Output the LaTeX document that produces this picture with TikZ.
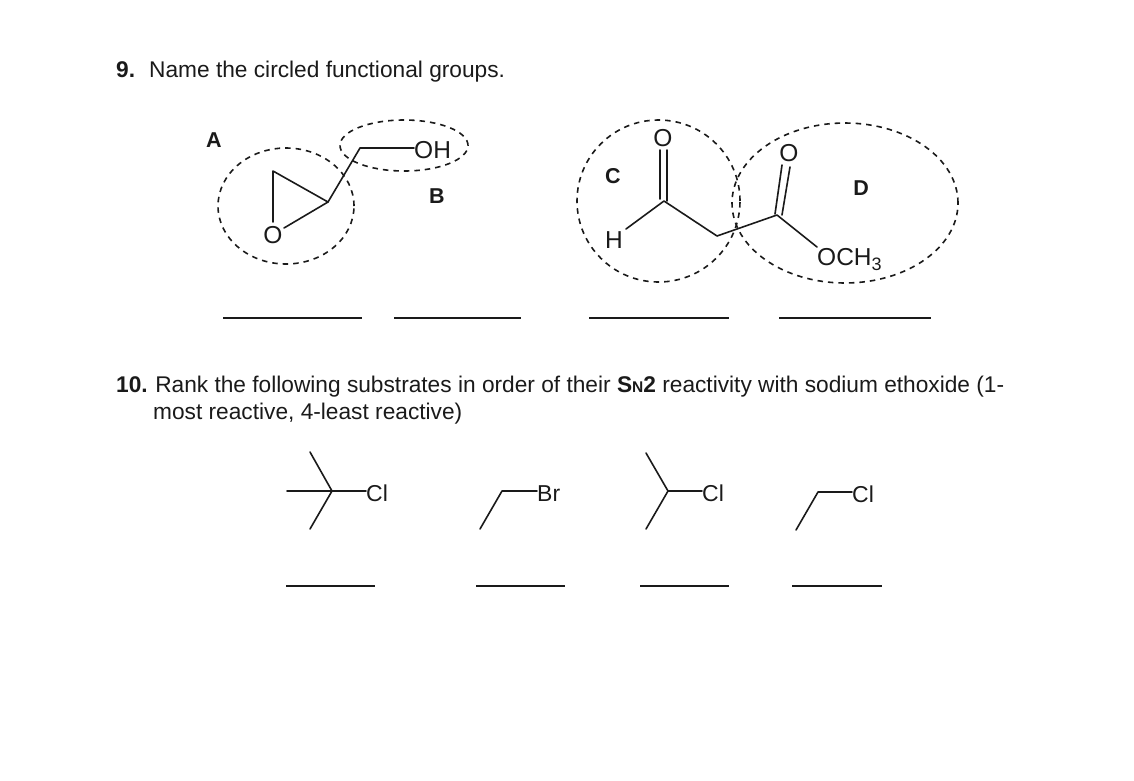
\documentclass[tikz,border=0pt]{standalone}
\usepackage{fontspec}
\setmainfont{Liberation Sans}
\definecolor{ink}{HTML}{1A1A1A}
\usetikzlibrary{shapes.geometric}
\tikzset{
  bond/.style={draw=ink,line width=1.6pt,line cap=round,line join=round},
  ring/.style={draw=ink,line width=1.6pt,dash pattern=on 5.5pt off 5pt,ellipse},
  answer/.style={draw=ink,line width=1.05pt},
  para/.style={anchor=base west,inner sep=0pt,font=\fontsize{22.7}{26}\selectfont,text=ink},
  atom/.style={inner sep=0pt,font=\fontsize{24.5}{28}\selectfont,text=ink},
  subatom/.style={inner sep=0pt,font=\fontsize{23}{26}\selectfont,text=ink},
  tag/.style={inner sep=0pt,font=\fontsize{21.5}{24}\selectfont\bfseries,text=ink}
}
\begin{document}
\begin{tikzpicture}[x=1pt,y=-1pt]
\useasboundingbox (0,0) rectangle (1134,780);
\node[para] (q9) at (116,77) {\textbf{9.}};
\node[para] (q9t) at (149,77) {Name the circled functional groups.};
\node[para] (q10a) at (116,392) {\textbf{10.}\hspace{7.5pt}Rank the following substrates in order of their \textbf{S{\fontsize{15.5}{18}\selectfont N}2} reactivity with sodium ethoxide (1-};
\node[para] (q10b) at (153,419) {most reactive, 4-least reactive)};
% molecule A / B
\coordinate (a1) at (273,171);
\coordinate (a2) at (328,202);
\coordinate (a3) at (360,148);
\node[atom] (aO) at (273,235) {O};
\node[atom,anchor=base west] (aOH) at (414,158) {OH};
\draw[bond] ([xshift=11pt,yshift=7pt]aO.center) -- (a2) -- (a1) -- ([yshift=13pt]aO.center);
\draw[bond] (a2) -- (a3) -- (aOH.west |- a3);
\node[ring,minimum width=136pt,minimum height=116pt] (ringA) at (286,206) {};
\node[ring,minimum width=128pt,minimum height=51pt] (ringB) at (404,145.5) {};
\node[tag] (tA) at (214,140) {A};
\node[tag] (tB) at (437,196) {B};
% molecule C / D
\coordinate (c1) at (664,201);
\coordinate (c2) at (717,236);
\coordinate (c3) at (777,215);
\coordinate (d1a) at (660,150); \coordinate (d1b) at (660,199);
\coordinate (d2a) at (667,150); \coordinate (d2b) at (667,201);
\coordinate (d3a) at (782,165); \coordinate (d3b) at (775,214);
\coordinate (d4a) at (790,167); \coordinate (d4b) at (782,215);
\node[atom] (cO) at (663,138) {O};
\node[atom] (eO) at (789,153) {O};
\node[atom] (cH) at (614,240) {H};
\node[atom,anchor=base west] (eM) at (817,265) {OCH{\fontsize{18}{20}\selectfont\raisebox{-5pt}{3}}};
\coordinate (cHb) at (626,229);
\coordinate (eMb) at (817,247);
\draw[bond] (cHb) -- (c1) -- (c2) -- (c3) -- (eMb);
\draw[bond] (d1a) -- (d1b) (d2a) -- (d2b) (d3a) -- (d3b) (d4a) -- (d4b);
\node[ring,minimum width=163pt,minimum height=162pt] (ringC) at (658.5,201) {};
\node[ring,minimum width=226pt,minimum height=160pt] (ringD) at (845,203) {};
\node[tag] (tC) at (613,176) {C};
\node[tag] (tD) at (861,188) {D};
% answer lines 9
\coordinate (l1a) at (223,318); \coordinate (l1b) at (362,318);
\coordinate (l2a) at (394,318); \coordinate (l2b) at (521,318);
\coordinate (l3a) at (589,318); \coordinate (l3b) at (729,318);
\coordinate (l4a) at (779,318); \coordinate (l4b) at (931,318);
\draw[answer] (l1a) -- (l1b) (l2a) -- (l2b) (l3a) -- (l3b) (l4a) -- (l4b);
% substrates
\coordinate (t0) at (332,491);
\coordinate (t1) at (310,452);
\coordinate (t2) at (287,491);
\coordinate (t3) at (310,529);
\node[subatom,anchor=base west] (tCl) at (366,501.5) {Cl};
\draw[bond] (t1) -- (t0) -- (t3) (t2) -- (t0) -- (tCl.west |- t0);
\coordinate (b0) at (502,491);
\coordinate (b1) at (480,529);
\node[subatom,anchor=base west] (bBr) at (537,501.5) {Br};
\draw[bond] (b1) -- (b0) -- (bBr.west |- b0);
\coordinate (i0) at (668,491);
\coordinate (i1) at (646,453);
\coordinate (i2) at (646,529);
\node[subatom,anchor=base west] (iCl) at (702,501.5) {Cl};
\draw[bond] (i1) -- (i0) -- (i2) (i0) -- (iCl.west |- i0);
\coordinate (e0) at (818,492);
\coordinate (e1) at (796,530);
\node[subatom,anchor=base west] (eCl) at (852,502) {Cl};
\draw[bond] (e1) -- (e0) -- (eCl.west |- e0);
% answer lines 10
\coordinate (m1a) at (286,586); \coordinate (m1b) at (375,586);
\coordinate (m2a) at (476,586); \coordinate (m2b) at (565,586);
\coordinate (m3a) at (640,586); \coordinate (m3b) at (729,586);
\coordinate (m4a) at (792,586); \coordinate (m4b) at (882,586);
\draw[answer] (m1a) -- (m1b) (m2a) -- (m2b) (m3a) -- (m3b) (m4a) -- (m4b);
\end{tikzpicture}
\end{document}
